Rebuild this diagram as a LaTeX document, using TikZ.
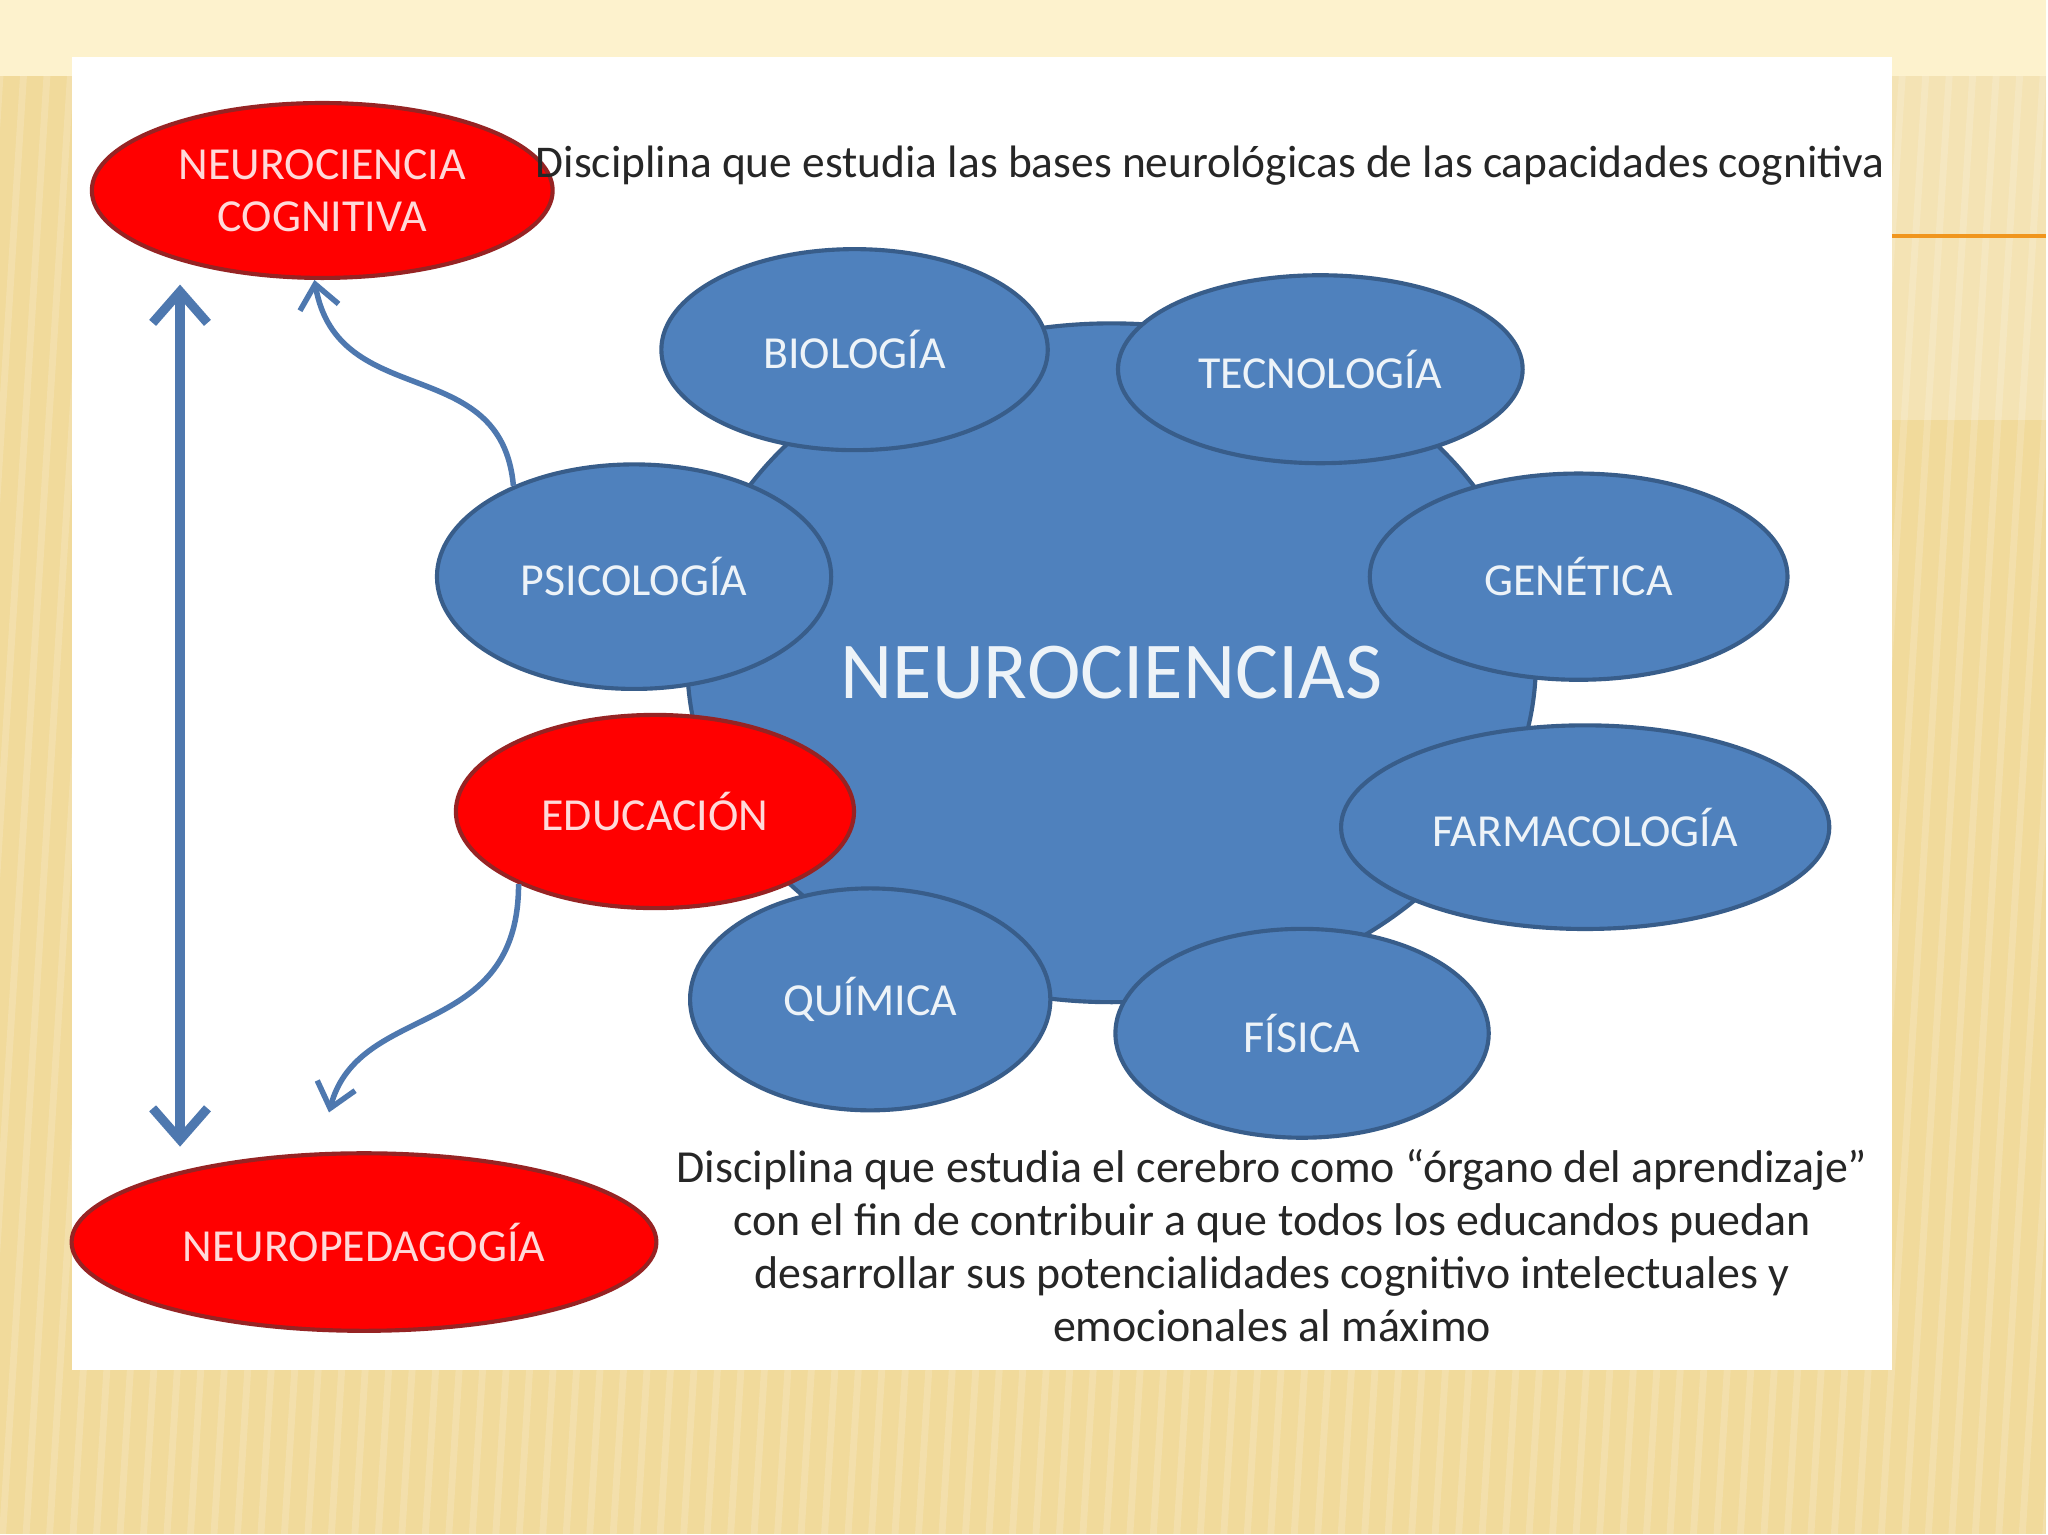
\documentclass[tikz,border=0pt]{standalone}
\usepackage{fontspec}
\setmainfont{Carlito}
\usetikzlibrary{shapes.geometric,arrows.meta}

\definecolor{slidebg}{RGB}{241,218,155}
\definecolor{slidetop}{RGB}{253,242,205}
\definecolor{ovalblue}{RGB}{79,129,189}
\definecolor{ovaledge}{RGB}{56,93,138}
\definecolor{ovalred}{RGB}{255,0,0}
\definecolor{rededge}{RGB}{150,35,35}
\definecolor{arrowblue}{RGB}{78,120,175}
\definecolor{rulecol}{RGB}{240,150,30}

\tikzset{
  oval/.style={ellipse, draw=ovaledge, line width=0.9pt, fill=ovalblue,
    text=white!90!ovalblue, inner sep=0pt, align=center,
    font=\fontsize{10}{11.4}\selectfont},
  redoval/.style={oval, fill=ovalred, draw=rededge, text=white!85!red},
  note/.style={text=black!85, inner sep=0pt, font=\fontsize{10}{11.6}\selectfont},
  dblarrow/.style={draw=arrowblue, line width=2pt,
    {Straight Barb[length=2.4mm,width=4.2mm]}-{Straight Barb[length=2.4mm,width=4.2mm]}},
  curvearrow/.style={draw=arrowblue, line width=1.2pt,
    -{Straight Barb[length=1.8mm,width=3mm]}}
}

\begin{document}
\begin{tikzpicture}[x=0.01cm,y=-0.01cm]
  % slide background
  \fill[slidebg] (0,0) rectangle (1568,1176);
  \fill[slidetop] (0,0) rectangle (1568,58);
  \fill[white,opacity=0.25] (1450,58) rectangle (1568,322);
  \begin{scope}
    \clip (0,58) rectangle (1568,1176);
    \foreach \s in {0,18,...,1640}
      \draw[white,opacity=0.16,line width=1.5pt] (\s,58) -- (\s-70,1176);
  \end{scope}
  \fill[white] (55,44) rectangle (1450,1050);
  \draw[rulecol,line width=1pt] (1450,181) -- (1568,181);

  % central field and disciplines
  \node[oval, minimum width=6.5cm, minimum height=5.2cm,
    label={[text=white!90!ovalblue, font=\fontsize{17.6}{20}\selectfont, yshift=-2.2pt]center:NEUROCIENCIAS}]
    (neu) at (852,508) {};
  \node[oval, minimum width=2.96cm, minimum height=1.54cm] (bio) at (655,268) {BIOLOGÍA};
  \node[oval, minimum width=3.10cm, minimum height=1.44cm] (tec) at (1012,283) {TECNOLOGÍA};
  \node[oval, minimum width=3.20cm, minimum height=1.58cm] (gen) at (1210,442) {GENÉTICA};
  \node[oval, minimum width=3.74cm, minimum height=1.56cm] (far) at (1215,634) {FARMACOLOGÍA};
  \node[oval, minimum width=2.86cm, minimum height=1.60cm] (fis) at (998,792) {FÍSICA};
  \node[oval, minimum width=2.76cm, minimum height=1.70cm] (qui) at (667,766) {QUÍMICA};
  \node[oval, minimum width=3.02cm, minimum height=1.72cm] (psi) at (486,442) {PSICOLOGÍA};
  \node[redoval, minimum width=3.05cm, minimum height=1.48cm] (edu) at (502,622) {EDUCACIÓN};

  % derived fields
  \node[redoval, minimum width=3.53cm, minimum height=1.34cm] (cog) at (247,146) {NEUROCIENCIA\\COGNITIVA};
  \node[redoval, minimum width=4.48cm, minimum height=1.36cm] (ped) at (279,952) {NEUROPEDAGOGÍA};

  \node[note, anchor=base west, font=\fontsize{9.9}{11.6}\selectfont] (cogtxt) at (410,136)
    {Disciplina que estudia las bases neurológicas de las capacidades cognitiva};
  \node[note, align=center, anchor=north] (pedtxt) at (975,880)
    {Disciplina que estudia el cerebro como “órgano del aprendizaje”\\
     con el fin de contribuir a que todos los educandos puedan\\
     desarrollar sus potencialidades cognitivo intelectuales y\\
     emocionales al máximo};

  % arrows
  \coordinate (axis) at (138,0);
  \draw[dblarrow, shorten <=1pt, shorten >=1pt] (cog.south -| axis) -- (ped.north -| axis);
  \draw[curvearrow] (psi.143) to[out=95,in=-80,looseness=1.2] (cog.265);
  \draw[curvearrow, shorten >=9pt] (edu.208) to[out=-90,in=75,looseness=1.2] (ped.117);
\end{tikzpicture}
\end{document}
